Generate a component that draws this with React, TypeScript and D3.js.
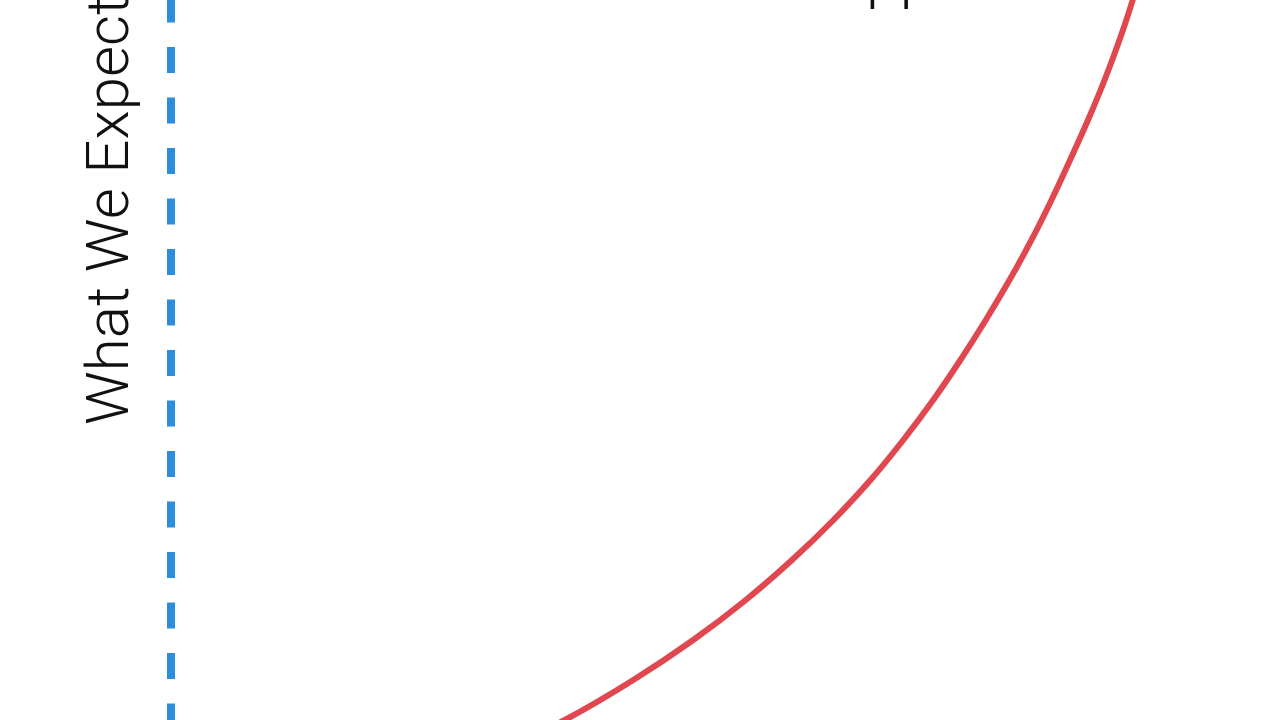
import React from "react";
import * as d3 from "d3";

// Reality curve (x = time, y = outcome)
const realityX = [31.16, 39.38, 46.23, 52.22, 57.48, 62.1, 66.25, 69.95, 73.23, 76.22, 78.94, 81.48, 83.85, 86.05, 88.05, 89.91, 91.7, 93.36, 94.85, 96.17, 97.23];
const realityY = [-5.56, 0, 5.56, 11.11, 16.67, 22.22, 27.78, 33.33, 38.89, 44.44, 50, 55.56, 61.11, 66.67, 72.22, 77.78, 83.33, 88.89, 94.44, 100, 105.56];

// Expectation: a straight vertical line at the start
const expectedX = 0;
const expectedSpan = [107.5, -5];

const yLabel = "What We Expect";
const topLabel = ["What Ha", "ppens"];

export default function App() {
	const width = 1280;
	const height = 720;

	const x = d3.scaleLinear().domain([0, 100]).range([171, 1171]);
	const y = d3.scaleLinear().domain([0, 100]).range([height, 0]);

	const line = d3
		.line<[number, number]>()
		.x((d) => x(d[0]))
		.y((d) => y(d[1]))
		.curve(d3.curveCatmullRom.alpha(0.5));

	const reality: [number, number][] = realityX.map((v, i) => [v, realityY[i]]);

	const font = "Roboto, 'Helvetica Neue', Arial, sans-serif";

	return (
		<svg
			width={width}
			height={height}
			style={{ position: "fixed", left: 0, top: 0, background: "#fff" }}
		>
			{/* expectation line */}
			<line
				x1={x(expectedX)}
				x2={x(expectedX)}
				y1={y(expectedSpan[0])}
				y2={y(expectedSpan[1])}
				stroke="#2b8ddc"
				strokeWidth={8}
				strokeDasharray="26 24.5"
			/>

			{/* reality curve */}
			<path
				d={line(reality) || undefined}
				fill="none"
				stroke="#e0474f"
				strokeWidth={6}
				strokeLinecap="round"
			/>

			{/* y label */}
			<text
				transform={`translate(128, 425) rotate(-90)`}
				fontFamily={font}
				fontWeight={300}
				fontSize={60}
				fill="#111"
			>
				{yLabel}
			</text>

			{/* top label, mostly outside the frame */}
			<text
				x={866}
				y={-3}
				textAnchor="end"
				fontFamily={font}
				fontWeight={300}
				fontSize={61}
				fill="#111"
			>
				{topLabel[0]}
			</text>
			<text
				x={866}
				y={-3}
				fontFamily={font}
				fontWeight={300}
				fontSize={61}
				fill="#111"
			>
				{topLabel[1]}
			</text>
		</svg>
	);
}
